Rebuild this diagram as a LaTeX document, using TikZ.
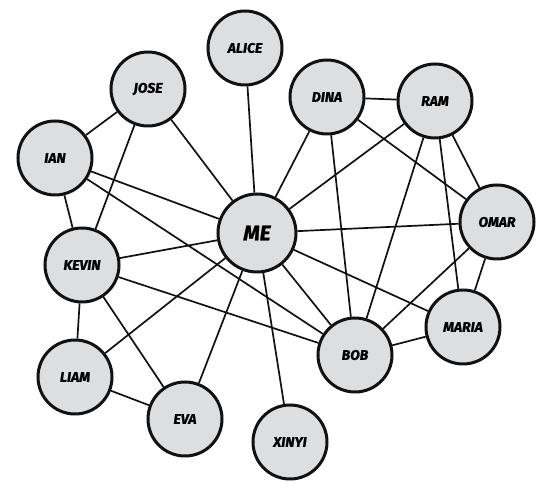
\documentclass[tikz,border=0pt]{standalone}
\usepackage{fontspec}
\setmainfont{Fira Sans}[BoldItalicFeatures={FakeBold=1.2}]
\definecolor{bubble}{RGB}{221,222,224}
\definecolor{ink}{RGB}{17,17,17}

\begin{document}
\begin{tikzpicture}[x=1pt,y=-1pt,line width=1.7pt,draw=ink,
    person/.style={circle,draw=ink,line width=3pt,fill=bubble,minimum size=74pt,inner sep=0pt,
      font=\bfseries\itshape\fontsize{14}{14}\selectfont}]
    \useasboundingbox (0,0) rectangle (550,494);
    \node[person] (alice) at (245,48) {ALICE};
    \node[person] (jose) at (148,89) {JOSE};
    \node[person] (ian) at (55,158) {IAN};
    \node[person] (dina) at (327,97) {DINA};
    \node[person] (ram) at (435,101) {RAM};
    \node[person,minimum size=78pt,font=\bfseries\itshape\fontsize{21}{21}\selectfont] (me) at (257,233) {ME};
    \node[person] (omar) at (497,222) {OMAR};
    \node[person] (kevin) at (82,265) {KEVIN};
    \node[person] (maria) at (463,327) {MARIA};
    \node[person] (bob) at (355,355) {BOB};
    \node[person] (liam) at (75,377) {LIAM};
    \node[person] (eva) at (185,419) {EVA};
    \node[person] (xinyi) at (290,442) {XINYI};

    \path (alice) edge (me)
          (jose) edge (ian)
          (jose) edge (kevin)
          (jose) edge (me)
          (ian) edge (kevin)
          (ian) edge (me)
          (ian) edge (bob)
          (dina) edge (ram)
          (dina) edge (me)
          (dina) edge (omar)
          (dina) edge (bob)
          (ram) edge (me)
          (ram) edge (omar)
          (ram) edge (bob)
          (ram) edge (maria)
          (me) edge (omar)
          (me) edge (kevin)
          (me) edge (liam)
          (me) edge (eva)
          (me) edge (xinyi)
          (me) edge (bob)
          (me) edge (maria)
          (kevin) edge (bob)
          (kevin) edge (liam)
          (kevin) edge (eva)
          (liam) edge (eva)
          (omar) edge (maria)
          (omar) edge (bob)
          (maria) edge (bob);
\end{tikzpicture}
\end{document}
